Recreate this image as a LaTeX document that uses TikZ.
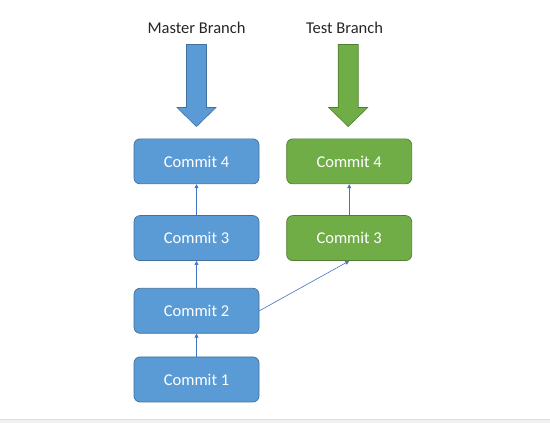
\documentclass[tikz,border=0pt]{standalone}
\usepackage{fontspec}
\setmainfont{Carlito}
\usepackage{tikz}
\usetikzlibrary{arrows.meta,positioning}
\usepackage{xcolor}

\definecolor{mblue}{HTML}{5B9BD5}
\definecolor{mblueline}{HTML}{41719C}
\definecolor{tgreen}{HTML}{70AD47}
\definecolor{tgreenline}{HTML}{507E32}
\definecolor{linkblue}{HTML}{4472C4}

\begin{document}
\begin{tikzpicture}[
    x=1pt,y=1pt,
    commit/.style={rectangle,draw,line width=0.7pt,rounded corners=6pt,
                   minimum width=125pt,minimum height=45pt,text=white,
                   font=\fontsize{16.5}{19}\selectfont},
    master/.style={commit,fill=mblue,draw=mblueline},
    test/.style={commit,fill=tgreen,draw=tgreenline},
    lbl/.style={font=\fontsize{16.5}{19}\selectfont,text=black!85},
    link/.style={draw=linkblue,line width=0.6pt,
                 -{Triangle[length=4pt,width=4pt]}},
    barrow/.style={line width=0.6pt}
  ]
    \useasboundingbox (0,0) rectangle (550,423);
    \fill[gray!12] (0,0) rectangle (550,3.5);
    \draw[gray!25,line width=0.5pt] (0,3.5) -- (550,3.5);
    % master branch
    \node[master] (c1) at (196.5,43.5) {Commit 1};
    \node[master,above=23pt of c1] (c2) {Commit 2};
    \node[master,above=27pt of c2] (c3) {Commit 3};
    \node[master,above=31pt of c3] (c4) {Commit 4};
    % test branch
    \node[test,right=27pt of c3] (t3) {Commit 3};
    \node[test,right=27pt of c4] (t4) {Commit 4};
    \node[lbl] (mlab) at (196.5,395) {Master Branch};
    \node[lbl] (tlab) at (344.5,395) {Test Branch};
    % big arrows
    \draw[barrow,fill=mblue,draw=mblueline] ([yshift=12pt]c4.north) -- ++(-19.5,19)
      -- ++(9.5,0) -- ++(0,63) -- ++(20,0) -- ++(0,-63) -- ++(9.5,0) -- cycle;
    \draw[barrow,fill=tgreen,draw=tgreenline] ([yshift=12pt,xshift=-1pt]t4.north) -- ++(-19.5,19)
      -- ++(9.5,0) -- ++(0,63) -- ++(20,0) -- ++(0,-63) -- ++(9.5,0) -- cycle;
    % history links
    \draw[link] (c1) -- (c2);
    \draw[link] (c2) -- (c3);
    \draw[link] (c3) -- (c4);
    \draw[link] (t3) -- (t4);
    \draw[link] (c2.east) -- (t3.south);
  \end{tikzpicture}
\end{document}
